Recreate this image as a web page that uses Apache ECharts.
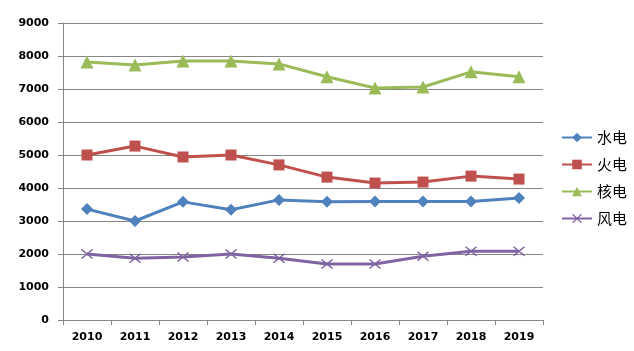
<!DOCTYPE html>
<html>
<head>
    <meta charset="utf-8">
    <title>ECharts</title>
    <script src="https://cdn.jsdelivr.net/npm/echarts@6/dist/echarts.min.js"></script>
</head>
<body style="margin:0;background:#fff;">
    <div id="main" style="width: 634px;height:351px;"></div>
    <script type="text/javascript">
var years = ['2010', '2011', '2012', '2013', '2014', '2015', '2016', '2017', '2018', '2019'];
var shuidian = [3360, 3000, 3580, 3340, 3640, 3580, 3590, 3590, 3590, 3700];
var huodian = [5000, 5270, 4940, 5000, 4700, 4330, 4150, 4180, 4360, 4270];
var hedian = [7820, 7730, 7850, 7850, 7760, 7370, 7030, 7060, 7520, 7370];
var fengdian = [2000, 1870, 1910, 2000, 1870, 1700, 1700, 1930, 2080, 2080];

var xSymbol = 'path://M0,1 L1,0 L12,9 L11,10 Z M11,0 L12,1 L1,10 L0,9 Z';

var myChart = echarts.init(document.getElementById('main'));

function line(name, data, color, symbol, size) {
    return {
        name: name,
        type: 'line',
        data: data,
        symbol: symbol,
        symbolSize: size,
        lineStyle: { color: color, width: 3 },
        itemStyle: { color: color },
        z: 3
    };
}

var option = {
    backgroundColor: '#fff',
    animation: false,
    grid: { left: 63, right: 91, top: 23, bottom: 31 },
    legend: {
        orient: 'vertical',
        left: 556,
        top: 125,
        itemGap: 12,
        itemWidth: 30,
        itemHeight: 12,
        textStyle: { fontSize: 15, color: '#000', fontFamily: 'Noto Sans CJK SC' },
        data: ['水电', '火电', '核电', '风电']
    },
    xAxis: {
        type: 'category',
        data: years,
        boundaryGap: true,
        axisLine: { lineStyle: { color: '#868686', width: 1 } },
        axisTick: { show: true, length: 5, lineStyle: { color: '#868686' } },
        axisLabel: { color: '#000', fontSize: 11, fontWeight: 'bold', fontFamily: 'DejaVu Sans', margin: 12 }
    },
    yAxis: {
        type: 'value',
        min: 0,
        max: 9000,
        interval: 1000,
        axisLine: { show: true, lineStyle: { color: '#868686' } },
        axisTick: { show: true, length: 5, lineStyle: { color: '#868686' } },
        splitLine: { lineStyle: { color: '#868686', width: 1 } },
        axisLabel: {
            color: '#000', fontSize: 11, fontWeight: 'bold', fontFamily: 'DejaVu Sans', margin: 14,
            formatter: function (v) { return String(v); }
        }
    },
    series: [
        line('水电', shuidian, '#4F81BD', 'diamond', 12),
        line('火电', huodian, '#C0504D', 'rect', 11),
        line('核电', hedian, '#9BBB59', 'triangle', 13),
        line('风电', fengdian, '#8064A2', xSymbol, [12, 10])
    ]
};
myChart.setOption(option);
    </script>
</body>
</html>
